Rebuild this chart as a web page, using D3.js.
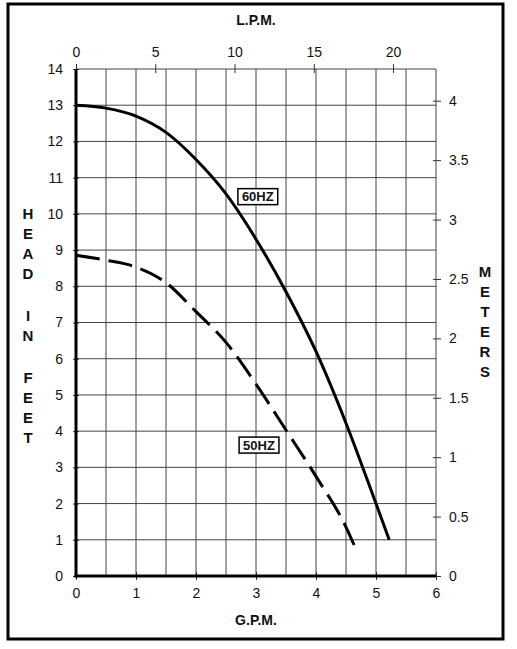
<!DOCTYPE html>
<meta charset="utf-8">
<head>
  <title>pump-curve</title>
</head>
<style>
  body { margin: 0; background: #fff; }
  svg text { font-family: "Liberation Sans", Arial, sans-serif; fill: #111; }
  .tick text { font-size: 14px; }
  .tick line { stroke: #333; stroke-width: 1; }
  .domain { display: none; }
  .title { font-size: 14px; font-weight: bold; }
  .vert { font-size: 15px; font-weight: bold; }
  .tag { font-size: 13px; font-weight: bold; }
</style>
<body>
  <svg width="517" height="649"></svg>

  <script src="https://cdnjs.cloudflare.com/ajax/libs/d3/7.8.5/d3.min.js"></script>
  <script>
    // tick labels
    var gpmTicks = [0, 1, 2, 3, 4, 5, 6];
    var feetTicks = [0, 1, 2, 3, 4, 5, 6, 7, 8, 9, 10, 11, 12, 13, 14];
    var lpmTicks = [0, 5, 10, 15, 20];
    var meterTicks = [0, 0.5, 1, 1.5, 2, 2.5, 3, 3.5, 4];

    // 60 Hz curve (gpm, feet)
    var gpm60 = [0, 0.5, 1, 1.5, 2, 2.5, 3, 3.5, 4, 4.5, 5, 5.22];
    var head60 = [13, 12.92, 12.7, 12.25, 11.5, 10.55, 9.3, 7.85, 6.2, 4.22, 2.0, 1.0];

    // 50 Hz curve (gpm, feet)
    var gpm50 = [0, 0.5, 1, 1.5, 2, 2.5, 3, 3.5, 4, 4.5, 4.65];
    var head50 = [8.86, 8.72, 8.53, 8.1, 7.3, 6.45, 5.3, 4.03, 2.75, 1.35, 0.8];

    var labels = ['60HZ', '50HZ'];

    var pLeft = 76, pRight = 436, pTop = 69, pBottom = 576;
    var GPM_TO_LPM = 3.785, FT_TO_M = 0.3048;

    var x = d3.scaleLinear().domain([0, 6]).range([pLeft, pRight]);
    var y = d3.scaleLinear().domain([0, 14]).range([pBottom, pTop]);
    var xL = d3.scaleLinear().domain([0, 6 * GPM_TO_LPM]).range([pLeft, pRight]);
    var yM = d3.scaleLinear().domain([0, 14 * FT_TO_M]).range([pBottom, pTop]);
    var fmt = function(d) { return String(d); };

    var svg = d3.select('svg');

    // outer frame
    svg.append('rect')
      .attr('x', 8).attr('y', 4)
      .attr('width', 495).attr('height', 635)
      .attr('fill', 'none').attr('stroke', '#000').attr('stroke-width', 3);

    // grid
    var grid = svg.append('g').attr('stroke', '#444').attr('stroke-width', 1);
    grid.selectAll('line.v')
      .data(d3.range(0, 13).map(function(i) { return i * 0.5; }))
      .enter().append('line')
      .attr('x1', function(d) { return x(d); })
      .attr('x2', function(d) { return x(d); })
      .attr('y1', pTop).attr('y2', pBottom);
    grid.selectAll('line.h')
      .data(feetTicks)
      .enter().append('line')
      .attr('x1', pLeft).attr('x2', pRight)
      .attr('y1', function(d) { return y(d); })
      .attr('y2', function(d) { return y(d); });

    // axes
    var gB = svg.append('g').attr('transform', 'translate(0,' + pBottom + ')')
      .call(d3.axisBottom(x).tickValues(gpmTicks).tickFormat(fmt).tickSize(4).tickPadding(8));
    gB.selectAll('.tick line').attr('y1', -4);

    var gLft = svg.append('g').attr('transform', 'translate(' + pLeft + ',0)')
      .call(d3.axisLeft(y).tickValues(feetTicks).tickFormat(fmt).tickSize(3).tickPadding(10));
    gLft.selectAll('.tick line').attr('x1', 3);

    var gT = svg.append('g').attr('transform', 'translate(0,' + pTop + ')')
      .call(d3.axisTop(xL).tickValues(lpmTicks).tickFormat(fmt).tickSize(5).tickPadding(7));
    gT.selectAll('.tick line').attr('y1', 4);

    var gR = svg.append('g').attr('transform', 'translate(' + pRight + ',0)')
      .call(d3.axisRight(yM).tickValues(meterTicks).tickFormat(fmt).tickSize(5).tickPadding(8));
    gR.selectAll('.tick line').attr('x1', -3);

    svg.selectAll('g[font-family]').attr('font-family', null).attr('font-size', null);

    // thick left / bottom edges
    svg.append('line').attr('x1', pLeft).attr('x2', pLeft)
      .attr('y1', pTop).attr('y2', pBottom + 1.5)
      .attr('stroke', '#000').attr('stroke-width', 3);
    svg.append('line').attr('x1', pLeft - 1.5).attr('x2', pRight)
      .attr('y1', pBottom).attr('y2', pBottom)
      .attr('stroke', '#000').attr('stroke-width', 3);

    // curves
    var line = d3.line()
      .x(function(d) { return x(d[0]); })
      .y(function(d) { return y(d[1]); })
      .curve(d3.curveMonotoneX);

    svg.append('path')
      .datum(d3.zip(gpm60, head60))
      .attr('d', line)
      .attr('fill', 'none').attr('stroke', '#000').attr('stroke-width', 3);

    svg.append('path')
      .datum(d3.zip(gpm50, head50))
      .attr('d', line)
      .attr('fill', 'none').attr('stroke', '#000').attr('stroke-width', 3)
      .attr('stroke-dasharray', '24,9');

    // curve tags
    var tagPos = [[3.03, 10.48], [3.05, 3.62]];
    labels.forEach(function(t, i) {
      var g = svg.append('g');
      var tx = g.append('text').attr('class', 'tag')
        .attr('x', x(tagPos[i][0])).attr('y', y(tagPos[i][1]))
        .attr('text-anchor', 'middle').attr('dy', '0.36em').text(t);
      var bb = tx.node().getBBox();
      g.insert('rect', 'text')
        .attr('x', bb.x - 4).attr('y', bb.y - 0.5)
        .attr('width', bb.width + 8).attr('height', bb.height + 1)
        .attr('fill', '#fff').attr('stroke', '#000').attr('stroke-width', 1.5);
    });

    // titles
    svg.append('text').attr('class', 'title')
      .attr('x', 256).attr('y', 25).attr('text-anchor', 'middle').text('L.P.M.');
    svg.append('text').attr('class', 'title')
      .attr('x', 256).attr('y', 625).attr('text-anchor', 'middle').text('G.P.M.');

    var headLetters = ['H', 'E', 'A', 'D', 'I', 'N', 'F', 'E', 'E', 'T'];
    var headY = [214, 234, 254, 274, 316, 336, 378, 398, 418, 438];
    svg.selectAll('text.hl')
      .data(headLetters)
      .enter().append('text').attr('class', 'vert')
      .attr('x', 28).attr('y', function(d, i) { return headY[i]; })
      .attr('dy', '0.36em').attr('text-anchor', 'middle')
      .text(function(d) { return d; });

    var meterLetters = ['M', 'E', 'T', 'E', 'R', 'S'];
    svg.selectAll('text.ml')
      .data(meterLetters)
      .enter().append('text').attr('class', 'vert')
      .attr('x', 485).attr('y', function(d, i) { return 272 + i * 20; })
      .attr('dy', '0.36em').attr('text-anchor', 'middle')
      .text(function(d) { return d; });
  </script>
</body>
</html>
